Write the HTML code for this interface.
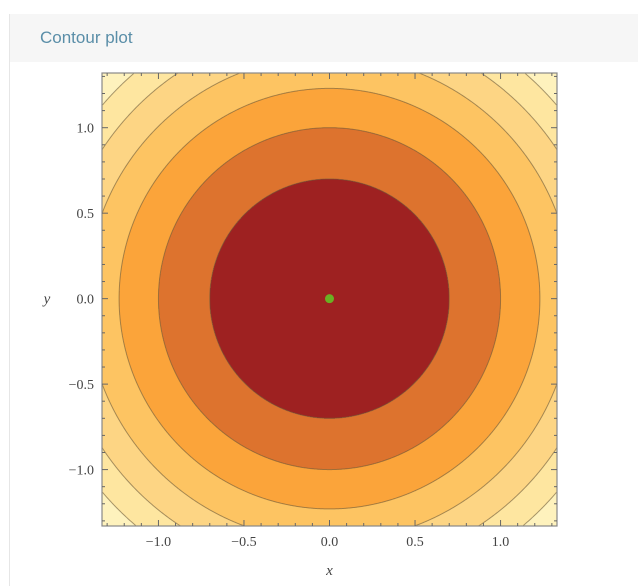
<!DOCTYPE html>
<html style="overflow:hidden"><head><meta charset="utf-8"><style>
html,body{margin:0;overflow:hidden}
body{background:#fff;width:638px;height:588px;font-family:"Liberation Sans",sans-serif}
#card{position:absolute;left:9px;top:14px;width:629px;height:572px;box-sizing:border-box;background:#fff;border-left:1px solid #e6e6e6}
#hdr{position:absolute;left:0;top:0;width:628px;height:48px;background:#f6f6f6}
#title{position:absolute;left:30px;top:14px;font-size:17px;color:#5a8ea8}
svg{position:absolute;left:0;top:0}
</style></head><body>
<div id="card">
<div id="hdr"><div id="title">Contour plot</div></div>
</div>
<svg id="chart" width="638" height="588"></svg>
<script>
const contourRadii=[1.88,1.745,1.59,1.42,1.23,1.0,0.70];
const bandColors=["#fffbd6","#fef2bd","#fee6a0","#fdd584","#fdc462","#fba43a","#dd732e","#9e2121"];
const xTicks=[-1.0,-0.5,0.0,0.5,1.0];
const yTicks=[-1.0,-0.5,0.0,0.5,1.0];
const xMin=-1.33,xMax=1.33,yMin=-1.33,yMax=1.32;
const pointX=[0],pointY=[0];
const L=102,R=557,T=73,B=526;
const sx=v=>L+(v-xMin)/(xMax-xMin)*(R-L);
const sy=v=>B-(v-yMin)/(yMax-yMin)*(B-T);
const ns="http://www.w3.org/2000/svg";
const svg=document.getElementById('chart');
function mk(t,a,p){const e=document.createElementNS(ns,t);for(const k in a)e.setAttribute(k,a[k]);(p||svg).appendChild(e);return e;}
const ux=(R-L)/(xMax-xMin),uy=(B-T)/(yMax-yMin);
const cx=sx(0),cy=sy(0);
// radial gradient with hard stops for filled bands
const defs=mk('defs',{});
const maxR=Math.max(...contourRadii)*1.05;
const grad=mk('radialGradient',{id:'bands',gradientUnits:'userSpaceOnUse',cx:cx,cy:cy,r:maxR*ux,fx:cx,fy:cy},defs);
const sorted=contourRadii.map((r,i)=>({r,col:bandColors[i+1]})).sort((a,b)=>a.r-b.r);
let prev=0;
sorted.forEach(s=>{const o=s.r/maxR;mk('stop',{offset:prev,'stop-color':s.col},grad);mk('stop',{offset:o,'stop-color':s.col},grad);prev=o;});
mk('stop',{offset:prev,'stop-color':bandColors[0]},grad);mk('stop',{offset:1,'stop-color':bandColors[0]},grad);
const bg=mk('rect',{x:L,y:T,width:R-L,height:B-T,fill:'url(#bands)'});


// contour lines: only visible portions
contourRadii.forEach((r,i)=>{
 const N=1440;let runs=[],cur=[];
 for(let k=0;k<=N;k++){const a=k/N*2*Math.PI;const x=cx+r*ux*Math.cos(a),y=cy-r*uy*Math.sin(a);
  if(x>=L&&x<=R&&y>=T&&y<=B){cur.push(x.toFixed(2)+','+y.toFixed(2));}else{if(cur.length>1)runs.push(cur);cur=[];}}
 if(cur.length>1)runs.push(cur);
 runs.forEach(run=>{const p=mk('polyline',{points:run.join(' '),fill:'none',stroke:'#6b5a3a','stroke-opacity':0.6,'stroke-width':1});
  
  });
});
const fr=mk('rect',{x:L,y:T,width:R-L,height:B-T,fill:'none',stroke:'#888','stroke-width':1.2});


for(let k=-13;k<=13;k++){const v=k/10;const maj=k%5===0;const len=maj?6:3;
 const x=sx(v),y=sy(v);
 mk('line',{x1:x,x2:x,y1:B,y2:B-len,stroke:'#666'});mk('line',{x1:x,x2:x,y1:T,y2:T+len,stroke:'#666'});
 if(v>=yMin&&v<=yMax){mk('line',{x1:L,x2:L+len,y1:y,y2:y,stroke:'#666'});mk('line',{x1:R,x2:R-len,y1:y,y2:y,stroke:'#666'});}
}
xTicks.forEach(v=>{const t=mk('text',{x:sx(v),y:B+20,'text-anchor':'middle','font-family':'Liberation Serif, serif','font-size':14,fill:'#444'});t.textContent=(v<0?'\u2212':'')+Math.abs(v).toFixed(1);
 
 });
yTicks.forEach(v=>{const t=mk('text',{x:L-8,y:sy(v)+5,'text-anchor':'end','font-family':'Liberation Serif, serif','font-size':14,fill:'#444'});t.textContent=(v<0?'\u2212':'')+Math.abs(v).toFixed(1);
 
 });
const xl=mk('text',{x:sx(0),y:575,'text-anchor':'middle','font-family':'Liberation Serif, serif','font-style':'italic','font-size':15,fill:'#444'});xl.textContent='x';


const yl=mk('text',{x:47,y:sy(0)+5,'text-anchor':'middle','font-family':'Liberation Serif, serif','font-style':'italic','font-size':15,fill:'#444'});yl.textContent='y';


pointX.forEach((px,i)=>{const p=mk('circle',{cx:sx(px),cy:sy(pointY[i]),r:4.5,fill:'#6ab023'});
 
 });
</script>
</body></html>
